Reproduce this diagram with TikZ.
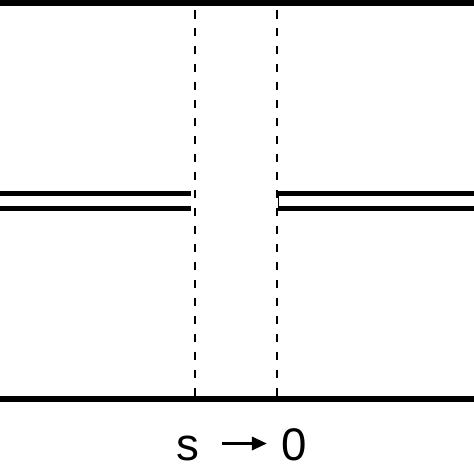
\documentclass[tikz,border=0pt]{standalone}
\usepackage{fontspec}
\setmainfont{Liberation Sans}
\usetikzlibrary{arrows.meta, positioning}

\begin{document}
\begin{tikzpicture}[
        x=0.02cm, y=-0.02cm,
        wall/.style={line width=0.11cm},
        plate/.style={line width=0.1cm},
        cut/.style={line width=0.03cm, dash pattern=on 0.17cm off 0.19cm},
        label/.style={inner sep=0pt, font=\fontsize{26}{30}\selectfont, text height=0.66cm, text depth=0pt},
        limit/.style={-{Triangle[length=0.3cm, width=0.26cm]}, line width=0.065cm}
    ]
        \useasboundingbox (0,0) rectangle (474,474);

        % Waende oben und unten
        \draw[wall] (0,3) -- (474,3);
        \draw[wall] (0,399) -- (474,399);

        % gestrichelte Grenzen
        \draw[cut] (195,10) -- (195,397);
        \draw[cut] (277,10) -- (277,397);

        % linke Platte
        \draw[plate] (0,193) -- (190.5,193);
        \draw[plate] (0,208.5) -- (190.5,208.5);

        % rechte Platte
        \draw[plate] (278,193) -- (474,193);
        \draw[plate] (278,208.5) -- (474,208.5);
        \draw[line width=0.03cm] (278.5,193) -- (278.5,208.5);

        % Beschriftung
        \node[label, anchor=base] (s) at (188,460) {s};
        \node[label, anchor=base] (zero) at (294,460) {0};
        \draw[limit, shorten <=0.45cm, shorten >=0.28cm] (s) -- (zero);

    \end{tikzpicture}
\end{document}
